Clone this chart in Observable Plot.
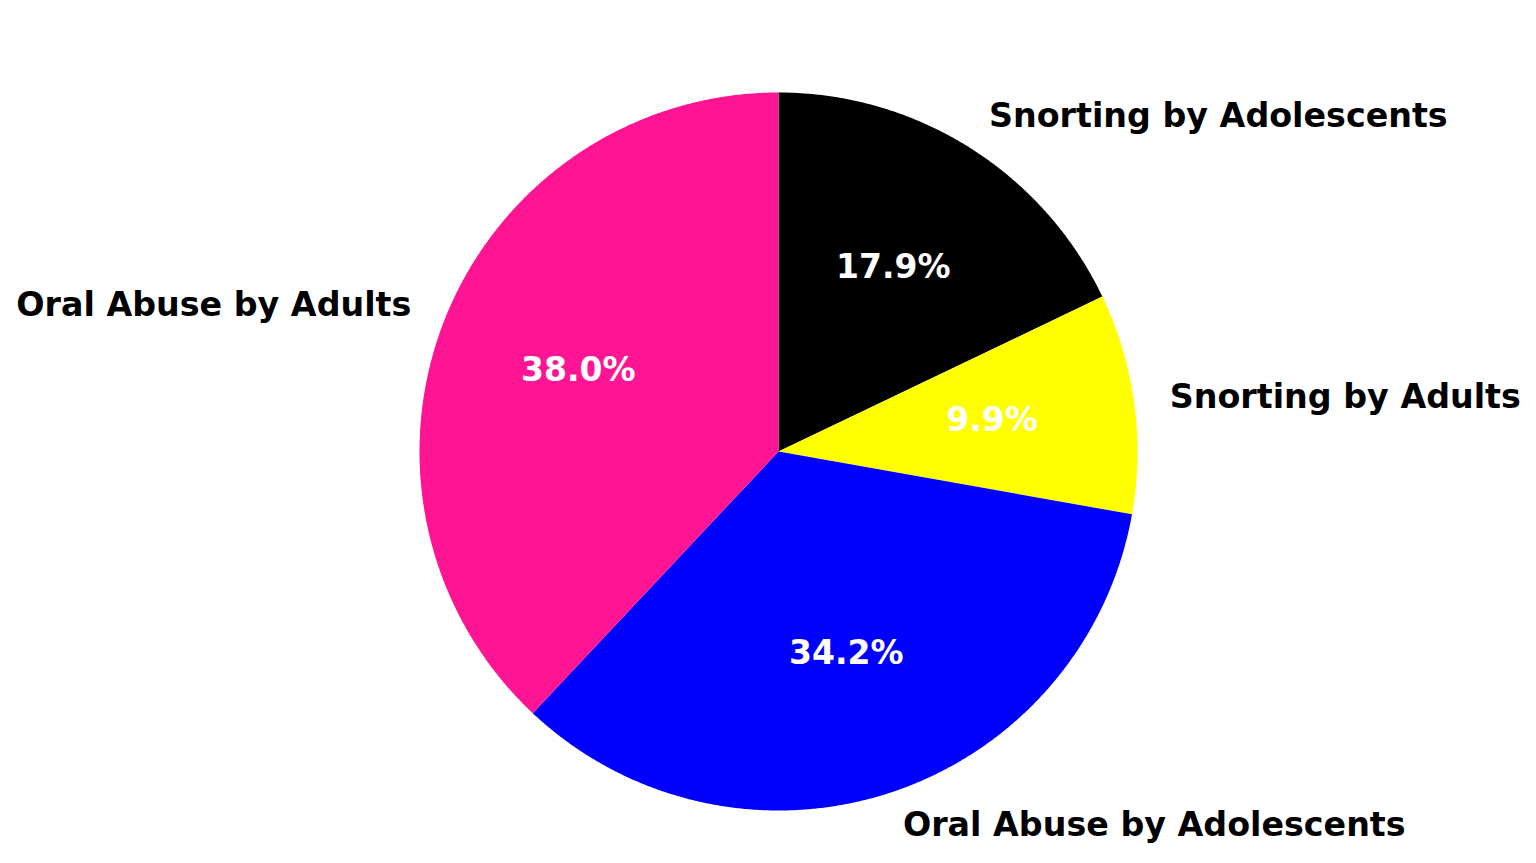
<!DOCTYPE html>
<html>
<head>
<meta charset="utf-8">
<script src="https://cdn.jsdelivr.net/npm/d3@7"></script>
<script src="https://cdn.jsdelivr.net/npm/@observablehq/plot@0.6"></script>
<style>
html, body { margin: 0; padding: 0; background: #fff; overflow: hidden; }
</style>
</head>
<body>
<div id="chart"></div>
<script>
const categories = ["Snorting by Adolescents", "Snorting by Adults", "Oral Abuse by Adolescents", "Oral Abuse by Adults"];
const shares = [17.9, 9.9, 34.2, 38.0];
const colors = ["#000000", "#FFFF00", "#0000FF", "#FF1493"];

const W = 1536, H = 863;
const cx = 778, cy = 451, R = 359;

// pie layout: start at top, clockwise (matplotlib startangle=90, counterclock=False)
const total = d3.sum(shares);
let acc = 0;
const slices = categories.map((c, i) => {
  const a0 = Math.PI / 2 - (acc / total) * 2 * Math.PI;
  acc += shares[i];
  const a1 = Math.PI / 2 - (acc / total) * 2 * Math.PI;
  return {category: c, value: shares[i], color: colors[i], a0, a1, mid: (a0 + a1) / 2};
});

const polys = [];
for (const s of slices) {
  polys.push({category: s.category, x: 0, y: 0});
  const n = Math.max(8, Math.ceil(Math.abs(s.a1 - s.a0) / 0.005));
  for (let k = 0; k <= n; k++) {
    const a = s.a0 + (s.a1 - s.a0) * k / n;
    polys.push({category: s.category, x: Math.cos(a), y: Math.sin(a)});
  }
  polys.push({category: s.category, x: 0, y: 0});
}

const labels = slices.map(s => ({
  category: s.category,
  x: 1.1 * Math.cos(s.mid),
  y: 1.1 * Math.sin(s.mid),
  anchor: Math.cos(s.mid) >= 0 ? "start" : "end"
}));
const pcts = slices.map(s => ({
  text: s.value.toFixed(1) + "%",
  x: 0.6 * Math.cos(s.mid),
  y: 0.6 * Math.sin(s.mid)
}));

const plot = Plot.plot({
  width: W,
  height: H,
  margin: 0,
  x: {domain: [-cx / R, (W - cx) / R], axis: null},
  y: {domain: [-(H - cy) / R, cy / R], axis: null},
  color: {domain: categories, range: colors},
  style: {fontFamily: "DejaVu Sans", background: "#fff"},
  marks: [
    Plot.line(polys, {x: "x", y: "y", z: "category", fill: "category", stroke: "none", curve: "linear"}),
    Plot.text(labels.filter(d => d.anchor === "start"), {x: "x", y: "y", text: "category", textAnchor: "start", fontSize: 33.3, fontWeight: "bold", fill: "#000", dy: -1}),
    Plot.text(labels.filter(d => d.anchor === "end"), {x: "x", y: "y", text: "category", textAnchor: "end", fontSize: 33.3, fontWeight: "bold", fill: "#000", dy: -1}),
    Plot.text(pcts, {x: "x", y: "y", text: "text", fontSize: 33, fontWeight: "bold", fill: "#fff", dy: -2})
  ]
});
document.getElementById("chart").appendChild(plot);
</script>
</body>
</html>
